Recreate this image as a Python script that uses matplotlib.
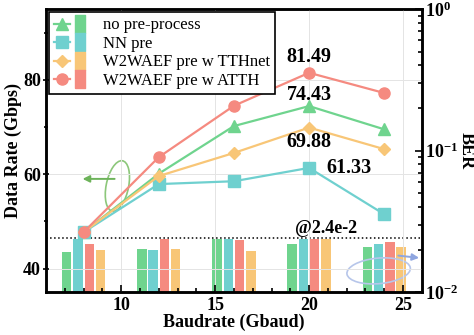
import numpy as np
import matplotlib
matplotlib.use("Agg")
import matplotlib.pyplot as plt
from matplotlib.patches import Ellipse
from matplotlib.lines import Line2D
from matplotlib.legend_handler import HandlerTuple

plt.rcParams['font.family'] = ['Liberation Serif', 'DejaVu Serif']
plt.rcParams['mathtext.fontset'] = 'stix'

# data
baud = [8, 12, 16, 20, 24]
names = ["no pre-process", "NN pre", "W2WAEF pre w TTHnet", "W2WAEF pre w ATTH"]
rate_none = [47.7, 60.1, 70.2, 74.43, 69.5]
rate_nn = [47.7, 57.9, 58.5, 61.33, 51.5]
rate_tth = [47.7, 59.6, 64.5, 69.88, 65.3]
rate_atth = [47.7, 63.6, 74.5, 81.49, 77.2]

ber_none = [0.0193, 0.0203, 0.0237, 0.0217, 0.0210]
ber_nn = [0.0237, 0.0199, 0.0237, 0.0239, 0.0217]
ber_tth = [0.0198, 0.0203, 0.0195, 0.0239, 0.0208]
ber_atth = [0.0217, 0.0239, 0.0233, 0.0237, 0.0227]

c_green = '#6fd48e'
c_cyan = '#6fd0cf'
c_orange = '#f8c677'
c_red = '#f58a80'

fig = plt.figure(figsize=(4.74, 3.35), dpi=100)
ax = fig.add_axes([0.097, 0.128, 0.793, 0.845])
ax2 = ax.twinx()
ax.set_zorder(ax2.get_zorder() + 1)
ax.patch.set_visible(False)

# bars on BER axis (order green, cyan, red, orange)
w = 0.5
bx = np.array(baud, dtype=float)
ax2.bar(bx - 0.9, np.array(ber_none) - 0.01, w, bottom=0.01, color=c_green)
ax2.bar(bx - 0.3, np.array(ber_nn) - 0.01, w, bottom=0.01, color=c_cyan)
ax2.bar(bx + 0.3, np.array(ber_atth) - 0.01, w, bottom=0.01, color=c_red)
ax2.bar(bx + 0.9, np.array(ber_tth) - 0.01, w, bottom=0.01, color=c_orange)
ax2.axhline(0.024, color='k', ls=':', lw=1.1)
ax2.set_yscale('log')
ax2.set_ylim(1e-2, 1)
ax2.set_ylabel('BER', fontsize=13, fontweight='bold', rotation=270, labelpad=12)
ax2.tick_params(axis='y', which='both', direction='in', labelsize=13, width=1.2, pad=2)
ax2.tick_params(axis='y', which='major', length=5)
ax2.tick_params(axis='y', which='minor', length=3)
for lab in ax2.get_yticklabels():
    lab.set_fontweight('bold')

# lines on data rate axis
l1, = ax.plot(baud, rate_none, '-^', color=c_green, lw=1.6, ms=8)
l2, = ax.plot(baud, rate_nn, '-s', color=c_cyan, lw=1.6, ms=8)
l3, = ax.plot(baud, rate_tth, '-D', color=c_orange, lw=1.6, ms=6)
l4, = ax.plot(baud, rate_atth, '-o', color=c_red, lw=1.6, ms=8)

ax.set_xlim(6, 26)
ax.set_ylim(35, 95)
ax.set_xticks([10, 15, 20, 25])
ax.set_xticks(np.arange(7, 26, 1), minor=True)
ax.set_yticks([40, 60, 80])
ax.set_yticks([50, 70, 90], minor=True)
ax.grid(True, which='major', color='#e4e4e4', lw=0.7)
ax.tick_params(which='both', direction='in', labelsize=13, width=1.2)
ax.tick_params(which='major', length=5)
ax.tick_params(which='minor', length=3)
ax.tick_params(axis='y', which='both', direction='inout', pad=1)
for lab in ax.get_xticklabels() + ax.get_yticklabels():
    lab.set_fontweight('bold')
ax.set_xlabel('Baudrate (Gbaud)', fontsize=13, fontweight='bold', labelpad=0)
ax.set_ylabel('Data Rate (Gbps)', fontsize=13, fontweight='bold', labelpad=1)
for sp in ax.spines.values():
    sp.set_linewidth(1.8)
for sp in ax2.spines.values():
    sp.set_linewidth(1.8)

# value labels
ax.text(20, 84.9, '81.49', ha='center', va='center', fontsize=14.5, fontweight='bold')
ax.text(20, 76.8, '74.43', ha='center', va='center', fontsize=14.5, fontweight='bold')
ax.text(20, 66.8, '69.88', ha='center', va='center', fontsize=14.5, fontweight='bold')
ax.text(20.9, 61.3, '61.33', ha='left', va='center', fontsize=14.5, fontweight='bold')
ax.text(20.9, 48.5, '@2.4e-2', ha='center', va='center', fontsize=13, fontweight='bold')

# ellipse annotations
ax.add_patch(Ellipse((0.19, 0.375), 0.06, 0.18, angle=-8, transform=ax.transAxes,
                     fill=False, ec='#8cc77a', lw=1.2))
ax.annotate('', xy=(0.09, 0.40), xytext=(0.19, 0.40), xycoords='axes fraction',
            arrowprops=dict(arrowstyle='-|>', color='#6db35a', lw=1.4))
ax.add_patch(Ellipse((0.885, 0.075), 0.17, 0.09, angle=8, transform=ax.transAxes,
                     fill=False, ec='#b7c6ea', lw=1.2))
ax.annotate('', xy=(1.0, 0.12), xytext=(0.93, 0.13), xycoords='axes fraction',
            arrowprops=dict(arrowstyle='-|>', color='#8fa6e0', lw=1.4))

# legend with line + narrow bar patch
bar_marker = [(-0.5, -1), (0.5, -1), (0.5, 1), (-0.5, 1), (-0.5, -1)]
handles = []
for ln, c in [(l1, c_green), (l2, c_cyan), (l3, c_orange), (l4, c_red)]:
    pt = Line2D([], [], ls='', marker=bar_marker, ms=13, color=c, mec=c)
    handles.append((ln, pt))
leg = ax.legend(handles, names, loc='upper left', fontsize=12,
                handler_map={tuple: HandlerTuple(ndivide=None, pad=0.1)},
                handlelength=2.0, frameon=True, fancybox=False, framealpha=1,
                edgecolor='k', borderpad=0.3, labelspacing=0.15, handletextpad=0.9,
                borderaxespad=0.2)
leg.get_frame().set_linewidth(1.2)

fig.savefig('out.png', dpi=100)
